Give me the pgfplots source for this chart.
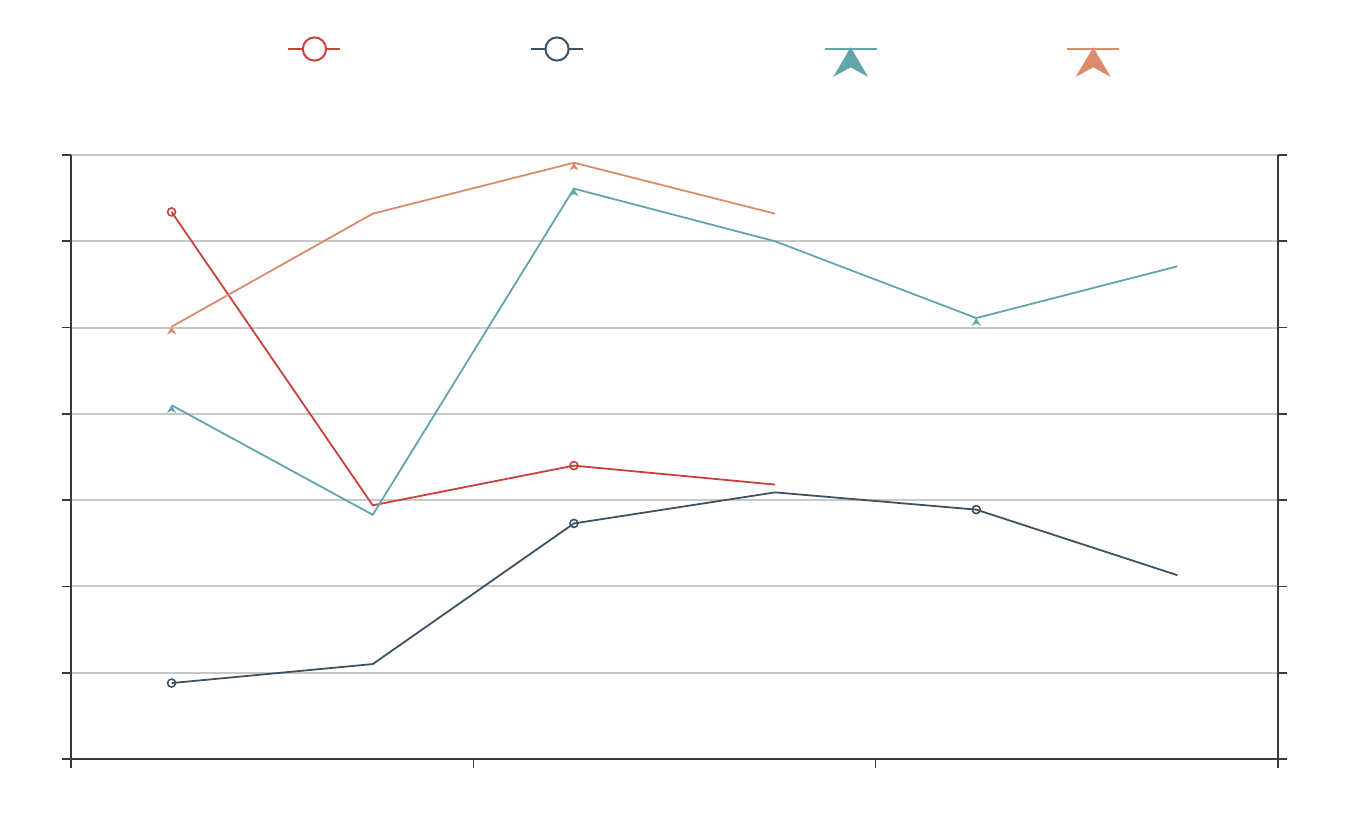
\documentclass[border=0pt]{standalone}
\usepackage{pgfplots}
\pgfplotsset{compat=1.18}

\definecolor{cred}{HTML}{C8413B}
\definecolor{cslate}{HTML}{3D5263}
\definecolor{cteal}{HTML}{62A5AB}
\definecolor{corange}{HTML}{DC8A6C}
\definecolor{cgrid}{HTML}{C8C8C8}
\definecolor{caxis}{HTML}{3A3A3A}

% filled arrow head pointing up, tip on the data point
\pgfdeclareplotmark{uparrow}{%
  \pgfpathmoveto{\pgfpoint{0pt}{0pt}}%
  \pgfpathlineto{\pgfpoint{\pgfplotmarksize}{-1.7\pgfplotmarksize}}%
  \pgfpathlineto{\pgfpoint{0pt}{-1.15\pgfplotmarksize}}%
  \pgfpathlineto{\pgfpoint{-\pgfplotmarksize}{-1.7\pgfplotmarksize}}%
  \pgfpathclose
  \pgfusepathqfill}

\begin{document}
\begin{tikzpicture}
\begin{axis}[
  scale only axis,
  width=603.5pt, height=302pt,
  xmin=0, xmax=6, ymin=0, ymax=7,
  xtick={0,2,4,6}, ytick={0,1,...,7},
  xticklabels={}, yticklabels={},
  xtick pos=bottom, ytick pos=both,
  tick align=outside,
  major tick length=4.5pt,
  every tick/.style={caxis, line width=0.8pt},
  axis x line*=bottom, axis y line*=box,
  x axis line style={caxis, line width=1.4pt, -, shorten <=-4.5pt, shorten >=-4.5pt},
  y axis line style={caxis, line width=0.8pt, -},
  ymajorgrids,
  grid style={cgrid, line width=1pt},
  clip=false,
  legend columns=4,
  legend style={at={(rel axis cs:0.179,1.197)}, anchor=north west,
    draw=none, fill=none, inner sep=0pt, column sep=0pt,
    nodes={inner sep=0pt}},
]
\coordinate (ll) at (rel axis cs:0,0);

\addplot[cred, line width=0.9pt, mark=o, mark size=2pt, mark indices={1,3},
  mark options={fill=white, line width=0.8pt},
  legend image code/.code={
    \draw[cred, line width=1pt] (0pt,0pt) -- (26pt,0pt);
    \draw[cred, fill=white, line width=1pt] (13pt,0pt) circle (5.8pt);}]
  coordinates {(0.5,6.34) (1.5,2.94) (2.5,3.40) (3.5,3.18)};
\addlegendentry{\rule{94.3pt}{0pt}}

\addplot[cslate, line width=0.9pt, mark=o, mark size=2pt, mark indices={1,3,5},
  mark options={fill=white, line width=0.8pt},
  legend image code/.code={
    \draw[cslate, line width=1pt] (0pt,0pt) -- (26pt,0pt);
    \draw[cslate, fill=white, line width=1pt] (13pt,0pt) circle (5.8pt);}]
  coordinates {(0.5,0.88) (1.5,1.10) (2.5,2.73) (3.5,3.09) (4.5,2.89) (5.5,2.13)};
\addlegendentry{\rule{119.8pt}{0pt}}

\addplot[cteal, line width=0.9pt, mark=uparrow, mark size=2.3pt, mark indices={1,3,5},
  legend image code/.code={
    \draw[cteal, line width=1pt] (0pt,0pt) -- (26pt,0pt);
    \fill[cteal] (13pt,0pt) -- ++(7.5pt,-12.75pt) -- ++(-7.5pt,4.1pt) -- ++(-7.5pt,-4.1pt) -- cycle;}]
  coordinates {(0.5,4.10) (1.5,2.83) (2.5,6.61) (3.5,6.00) (4.5,5.11) (5.5,5.71)};
\addlegendentry{\rule{94.3pt}{0pt}}

\addplot[corange, line width=0.9pt, mark=uparrow, mark size=2.3pt, mark indices={1,3},
  legend image code/.code={
    \draw[corange, line width=1pt] (0pt,0pt) -- (26pt,0pt);
    \fill[corange] (13pt,0pt) -- ++(7.5pt,-12.75pt) -- ++(-7.5pt,4.1pt) -- ++(-7.5pt,-4.1pt) -- cycle;}]
  coordinates {(0.5,5.01) (1.5,6.32) (2.5,6.91) (3.5,6.32)};
\addlegendentry{}
\end{axis}
\useasboundingbox ([shift={(-35.5pt,-40.5pt)}]ll) rectangle ++(686pt,420pt);
\end{tikzpicture}
\end{document}
